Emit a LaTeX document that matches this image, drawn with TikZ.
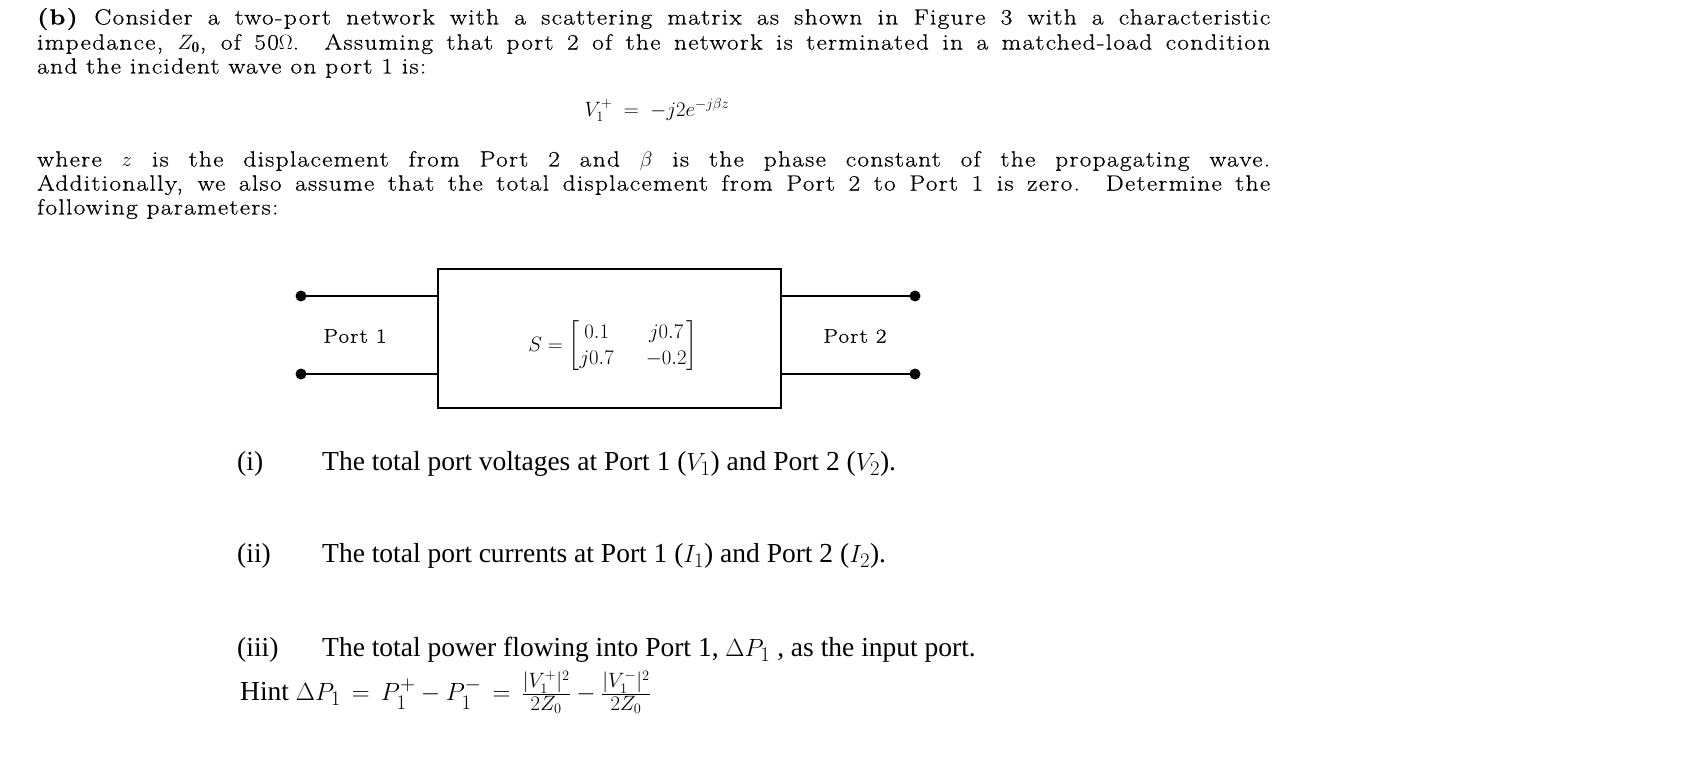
\documentclass[tikz,border=0pt]{standalone}
\usepackage{amsmath}
\usepackage{fontspec}
\newfontfamily\tms{Liberation Serif}
\newfontfamily\lms[LetterSpace=6,FakeStretch=1.15,FakeBold=0.6]{Latin Modern Roman}
\newcommand{\jline}[1]{\hbox to 1233pt{#1}}
\begin{document}
\begin{tikzpicture}[x=1pt,y=-1pt,
  para/.style={anchor=west,inner sep=0pt,font=\lms\fontsize{22}{24}\selectfont},
  tm/.style={anchor=west,inner sep=0pt,font=\tms\fontsize{27.5}{30}\selectfont},
  wire/.style={line width=1.6pt},
  dot/.style={circle,fill,inner sep=0pt,minimum size=11pt}]
\useasboundingbox[fill=white] (0,0) rectangle (1687,772);
\node[para] (p1a) at (37,19) {\jline{\textbf{(b)} Consider a two-port network with a scattering matrix as shown in Figure 3 with a characteristic}};
\node[para] (p1b) at (37,44) {\jline{impedance, $Z_{\mathbf 0}$, of 50$\Omega$. Assuming that port 2 of the network is terminated in a matched-load condition}};
\node[para] (p1c) at (37,68) {and the incident wave on port 1 is:};
\node[inner sep=0pt,font=\fontsize{22}{24}\selectfont] (eq) at (657,110) {$V_1^+ \;=\; -j2e^{-j\beta z}$};
\node[para] (p2a) at (37,161) {\jline{where $z$ is the displacement from Port 2 and $\beta$ is the phase constant of the propagating wave.}};
\node[para] (p2b) at (37,185) {\jline{Additionally, we also assume that the total displacement from Port 2 to Port 1 is zero. Determine the}};
\node[para] (p2c) at (37,209) {following parameters:};
\node[draw,line width=1.6pt,minimum width=343pt,minimum height=139pt,anchor=north west,inner sep=0pt] (box) at (437,268) {};
\node[dot] (a1) at (301,296) {};
\node[dot] (a2) at (301,374) {};
\node[dot] (b1) at (915,296) {};
\node[dot] (b2) at (915,374) {};
\coordinate (l1) at (437,296); \coordinate (l2) at (437,374);
\coordinate (r1) at (780,296); \coordinate (r2) at (780,374);
\draw[wire] (a1.center) -- (l1); \draw[wire] (a2.center) -- (l2);
\draw[wire] (r1) -- (b1.center); \draw[wire] (r2) -- (b2.center);
\node[font=\lms\fontsize{20}{24}\selectfont] (pt1) at (355,336) {Port 1};
\node[font=\lms\fontsize{20}{24}\selectfont] (pt2) at (855,336) {Port 2};
\node[font=\fontsize{22}{26}\selectfont] (mat) at (613,346) {$S=\begin{bmatrix}0.1 & \quad j0.7\\ j0.7 & \quad -0.2\end{bmatrix}$};
\node[tm] (i) at (237,464) {(i)};
\node[tm] (it) at (322,464) {The total port voltages at Port 1 ($V_1$) and Port 2 ($V_2$).};
\node[tm] (ii) at (237,556) {(ii)};
\node[tm] (iit) at (322,556) {The total port currents at Port 1 ($I_1$) and Port 2 ($I_2$).};
\node[tm] (iii) at (237,650) {(iii)};
\node[tm] (iiit) at (322,650) {The total power flowing into Port 1, $\Delta P_1$ , as the input port.};
\node[tm] (hint) at (240,692) {Hint $\Delta P_1 \,=\, P_1^+ - P_1^- \,=\, \frac{|V_1^+|^2}{2Z_0} - \frac{|V_1^-|^2}{2Z_0}$};
\end{tikzpicture}
\end{document}
